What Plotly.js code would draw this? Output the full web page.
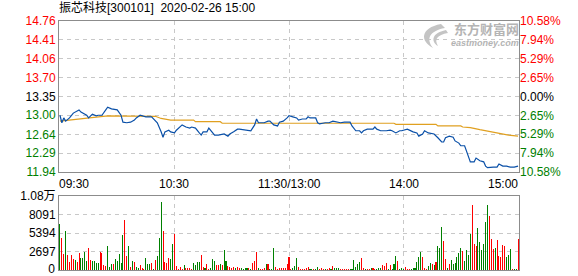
<!DOCTYPE html>
<html>
<head>
<meta charset="utf-8">
<script src="https://cdn.plot.ly/plotly-3.0.1.min.js"></script>
<style>
html,body{margin:0;padding:0;background:#fff;overflow:hidden;}
#wrap{position:relative;width:578px;height:276px;}
#chart{width:578px;height:276px;}
#zeroLabel{position:absolute;z-index:10;left:30px;top:262px;width:25px;height:14px;line-height:14px;text-align:right;
  font-family:"Liberation Sans", Arial, sans-serif;font-size:12px;color:#000;}
</style>
</head>
<body>
<div id="wrap"><div id="chart"></div><div id="zeroLabel"></div></div>
<script>
// ---- data ----
const stockTitle = "振芯科技[300101]  2020-02-26 15:00";
const prevClose = 13.35;
const priceTicks = [11.94, 12.29, 12.64, 13.00, 13.35, 13.70, 14.06, 14.41, 14.76];
const pctTicks = [-10.58, -7.94, -5.29, -2.65, 0, 2.65, 5.29, 7.94, 10.58];
const volTicks = [0, 2697, 5394, 8091, 10788];
const volTickLabels = ["0", "2697", "5394", "8091", "1.08万"];
const timeTickMinutes = [0, 60, 120, 180, 240];
const timeTickLabels = ["09:30", "10:30", "11:30/13:00", "14:00", "15:00"];

const priceMinutes = [0,1,2,3,5,7,10,11,14,15,17,19,20,22,24,25,27,30,32,33,35,37,39,40,42,44,45,48,51,53,54,55,57,58,60,61,63,64,66,68,69,71,73,74,75,77,78,80,81,83,86,88,89,91,93,94,97,100,102,103,104,107,109,110,112,114,115,117,119,120,122,124,125,127,129,130,131,134,135,136,139,141,143,145,147,149,152,153,155,157,158,159,161,164,165,166,168,171,173,174,176,178,179,182,183,185,187,188,190,191,193,195,196,198,200,201,202,204,206,207,209,210,212,213,214,215,217,218,220,222,223,224,227,229,230,232,234,236,238,240];
const priceValues = [13.00,12.86,12.95,12.89,12.95,13.04,13.10,13.06,13.00,12.95,13.02,12.99,13.00,13.00,13.10,13.15,13.12,13.10,13.00,12.87,12.86,12.87,12.91,12.95,13.00,12.97,12.97,12.97,12.86,12.69,12.59,12.69,12.72,12.69,12.67,12.72,12.78,12.82,12.78,12.76,12.78,12.76,12.67,12.63,12.69,12.69,12.76,12.67,12.63,12.63,12.65,12.61,12.65,12.69,12.74,12.74,12.72,12.71,12.82,12.93,12.86,12.86,12.89,12.89,12.82,12.80,12.87,12.89,12.95,12.99,12.97,12.95,12.91,12.93,12.93,12.97,12.95,12.95,12.86,12.84,12.86,12.86,12.89,12.87,12.86,12.87,12.87,12.80,12.71,12.71,12.67,12.71,12.74,12.74,12.78,12.74,12.71,12.71,12.72,12.71,12.67,12.71,12.71,12.74,12.72,12.69,12.67,12.61,12.65,12.71,12.67,12.65,12.65,12.58,12.50,12.50,12.58,12.61,12.59,12.52,12.48,12.43,12.43,12.33,12.22,12.13,12.13,12.20,12.15,12.13,12.05,12.02,12.03,12.03,12.09,12.05,12.05,12.03,12.03,12.05];

const avgMinutes = [0,5,10,15,20,25,50,53,58,70,71,84,85,175,176,197,198,210,211,215,220,226,230,235,240];
const avgValues = [12.89,12.91,12.94,12.96,12.97,12.99,12.98,12.94,12.91,12.91,12.88,12.88,12.85,12.85,12.83,12.83,12.80,12.80,12.78,12.77,12.73,12.69,12.66,12.63,12.61];

const volumesAM = [6680,4650,2320,5660,2180,1160,2180,1600,1450,1160,2470,1740,1740,2610,1360,3190,1450,1260,1360,1060,1060,2610,2470,680,580,3480,440,820,820,1600,1310,2320,970,5080,7260,2030,3480,390,1310,1160,390,240,680,290,190,1740,870,820,1060,150,1450,2030,4650,9870,5660,1160,1060,1740,1600,3780,5230,580,190,390,190,730,340,340,240,150,1020,730,1160,1160,2180,480,290,870,190,290,1600,1360,730,680,870,770,2900,1360,580,390,290,440,240,440,290,240,150,290,290,290,190,1020,1310,2610,290,190,190,290,870,870,190,190,3190,390,190,290,290,290,290,870,1890,190,290,580,1740,440];
const volumesPM = [190,190,190,290,390,190,190,190,190,390,190,290,190,190,190,290,190,580,290,290,290,190,190,190,190,190,190,190,1450,480,870,1160,1740,290,190,190,190,290,290,190,190,290,290,770,630,970,190,730,190,870,2030,1310,190,290,190,390,190,190,190,290,290,1160,1890,2610,1890,290,190,580,1020,870,730,1160,3480,3190,6240,4160,1600,290,870,1450,870,1020,1890,2470,3190,2760,1310,2900,2180,5230,9440,3780,3480,6100,4020,2900,3780,6970,9440,7840,4500,3050,3190,4360,2030,1890,3630,3480,1890,2180,3050,190,100,100,4500];
const volUpAM = [0,1,1,0,1,1,1,1,0,1,1,0,0,0,0,1,1,0,0,0,0,1,1,1,1,0,0,0,1,0,0,0,0,0,1,1,0,1,0,1,0,0,1,1,1,0,0,0,1,0,1,0,0,0,1,1,1,1,0,0,1,1,1,1,1,0,1,1,1,1,0,0,0,0,1,1,0,1,1,0,0,0,1,1,0,1,0,0,1,1,1,1,0,1,1,0,0,0,0,1,0,1,1,1,0,1,1,1,0,1,0,0,0,1,1,1,1,1,1,1,1,1,0,0,0,1];
const volUpPM = [1,1,1,1,1,0,0,1,0,0,1,1,1,0,1,1,0,1,0,0,0,1,1,1,1,1,0,0,0,0,0,0,1,1,0,1,1,0,1,1,0,0,0,1,1,1,0,1,0,0,0,1,0,0,0,1,1,1,0,0,0,0,0,0,1,1,1,0,0,1,0,1,0,0,0,1,1,0,1,0,0,0,0,0,0,1,0,0,0,0,1,1,1,0,0,0,0,0,0,1,1,1,0,1,1,1,1,1,0,0,0,1,0,0,1];

// ---- build ----
const RED = "#ff0000", GREEN = "#008000", BLACK = "#000000";
const FONT = "Liberation Sans, Arial, Noto Sans CJK SC, sans-serif";
const volumes = volumesAM.concat(volumesPM);
const volUp = volUpAM.concat(volUpPM);
const volMinutes = volumes.map((_, i) => i);
const volColors = volUp.map(u => u ? RED : GREEN);

function colorFor(v, ref) { return v > ref + 1e-9 ? RED : (v < ref - 1e-9 ? GREEN : BLACK); }
const priceTickText = priceTicks.map(v => '<span style="color:' + colorFor(v, prevClose) + '">' + v.toFixed(2) + '</span>');
const pctTickText = pctTicks.map(v => '<span style="color:' + colorFor(v, 0) + '">' + Math.abs(v).toFixed(2) + '%</span>');

const gridColor = "#c8c8c8";
const frameColor = "#8c8c8c";
const xRange = [-0.5, 240.5];
const mainDomain = [1 - 151/249, 1];
const volDomain = [0, 74/249];

const traces = [
  {x: avgMinutes, y: avgValues, type: "scatter", mode: "lines", line: {color: "#e0a020", width: 1.2}, xaxis: "x", yaxis: "y", hoverinfo: "skip"},
  {x: priceMinutes, y: priceValues, type: "scatter", mode: "lines", line: {color: "#0a50a8", width: 1.2}, xaxis: "x", yaxis: "y", hoverinfo: "skip"},
  {x: [0, 240], y: [0, 0], type: "scatter", mode: "lines", line: {width: 0}, xaxis: "x", yaxis: "y2", hoverinfo: "skip", showlegend: false},
  {x: volMinutes, y: volumes, type: "bar", width: 0.55, marker: {color: volColors, line: {width: 0}}, xaxis: "x2", yaxis: "y3", hoverinfo: "skip"}
];

const annotations = timeTickMinutes.map((m, i) => ({
  x: m, xref: "x", y: mainDomain[0], yref: "paper", yanchor: "top", yshift: -3,
  xanchor: i === 0 ? "left" : (i === timeTickMinutes.length - 1 ? "right" : "center"),
  xshift: i === 0 ? -3 : (i === timeTickMinutes.length - 1 ? 2 : 0),
  text: timeTickLabels[i], showarrow: false, font: {family: FONT, size: 12, color: "#000"}
}));
annotations.push({x: 0, xref: "paper", y: 1, yref: "paper", xanchor: "left", yanchor: "middle", yshift: 13, xshift: -2,
  text: stockTitle, showarrow: false, font: {family: FONT, size: 12, color: "#000"}});
annotations.push({x: 1, xref: "paper", y: 1, yref: "paper", xanchor: "right", yanchor: "top", yshift: 3, xshift: 1,
  text: "<b>东方财富网</b>", showarrow: false, borderpad: 0, font: {family: "Noto Sans CJK SC, sans-serif", size: 13, color: "#b4b4b4"}});
annotations.push({x: 1, xref: "paper", y: 1, yref: "paper", xanchor: "right", yanchor: "top", yshift: -16, xshift: 1,
  text: "<b><i>eastmoney.com</i></b>", showarrow: false, borderpad: 0, font: {family: FONT, size: 9, color: "#b4b4b4"}});

// watermark logo swoosh (decoration, pixel offsets from the plot's top-right corner)
const shapes = [
  {type: "path", xref: "paper", yref: "paper", xsizemode: "pixel", ysizemode: "pixel", xanchor: 1, yanchor: 1,
   path: "M -78 -3 C -99 -7 -99 -20 -86 -27 C -93 -18 -90 -10 -74 -7 Z", fillcolor: "#c4c4c4", line: {width: 0}},
  {type: "path", xref: "paper", yref: "paper", xsizemode: "pixel", ysizemode: "pixel", xanchor: 1, yanchor: 1,
   path: "M -73 -9 C -88 -12 -88 -21 -81 -25 C -85 -18 -82 -14 -71 -12 Z", fillcolor: "#c4c4c4", line: {width: 0}}
];

const layout = {
  width: 578, height: 276,
  margin: {l: 59, r: 59, t: 21, b: 6, pad: 0},
  paper_bgcolor: "#fff", plot_bgcolor: "#fff",
  showlegend: false,
  font: {family: FONT, size: 12, color: "#000"},
  bargap: 0,
  xaxis: {domain: [0, 1], anchor: "y", range: xRange, tickvals: timeTickMinutes.slice(1, 4), showticklabels: false, ticks: "",
    showgrid: true, gridcolor: gridColor, griddash: "4px,4px", gridwidth: 1, zeroline: false,
    showline: true, mirror: true, linecolor: frameColor, linewidth: 1, fixedrange: true},
  yaxis: {domain: mainDomain, anchor: "x", range: [priceTicks[0], priceTicks[priceTicks.length - 1]], tickmode: "array",
    tickvals: priceTicks, ticktext: priceTickText, ticks: "", showgrid: true, gridcolor: gridColor, griddash: "4px,4px",
    zeroline: false, showline: true, mirror: true, linecolor: frameColor, linewidth: 1, tickfont: {family: FONT, size: 12}, fixedrange: true},
  yaxis2: {overlaying: "y", anchor: "x", side: "right", range: [pctTicks[0], pctTicks[pctTicks.length - 1]], tickmode: "array",
    tickvals: pctTicks, ticktext: pctTickText, ticks: "", showgrid: false, zeroline: false, showline: false,
    tickfont: {family: FONT, size: 12}, fixedrange: true},
  xaxis2: {domain: [0, 1], anchor: "y3", range: xRange, tickvals: timeTickMinutes.slice(1, 4), showticklabels: false, ticks: "",
    showgrid: true, gridcolor: gridColor, griddash: "4px,4px", zeroline: false,
    showline: true, mirror: true, linecolor: frameColor, linewidth: 1, fixedrange: true},
  yaxis3: {domain: volDomain, anchor: "x2", range: [0, volTicks[volTicks.length - 1]], tickmode: "array",
    tickvals: volTicks.slice(1), ticktext: volTickLabels.slice(1), ticks: "", showgrid: true, gridcolor: gridColor, griddash: "4px,4px",
    zeroline: false, showline: true, mirror: true, linecolor: frameColor, linewidth: 1,
    tickfont: {family: FONT, size: 12, color: "#000"}, fixedrange: true},
  annotations: annotations,
  shapes: shapes
};

// bottom volume tick label "0" sits at the figure edge, so it is drawn as page text above the chart
document.getElementById("zeroLabel").textContent = volTickLabels[0];

Plotly.newPlot("chart", traces, layout, {displayModeBar: false, staticPlot: true});
</script>
</body>
</html>
